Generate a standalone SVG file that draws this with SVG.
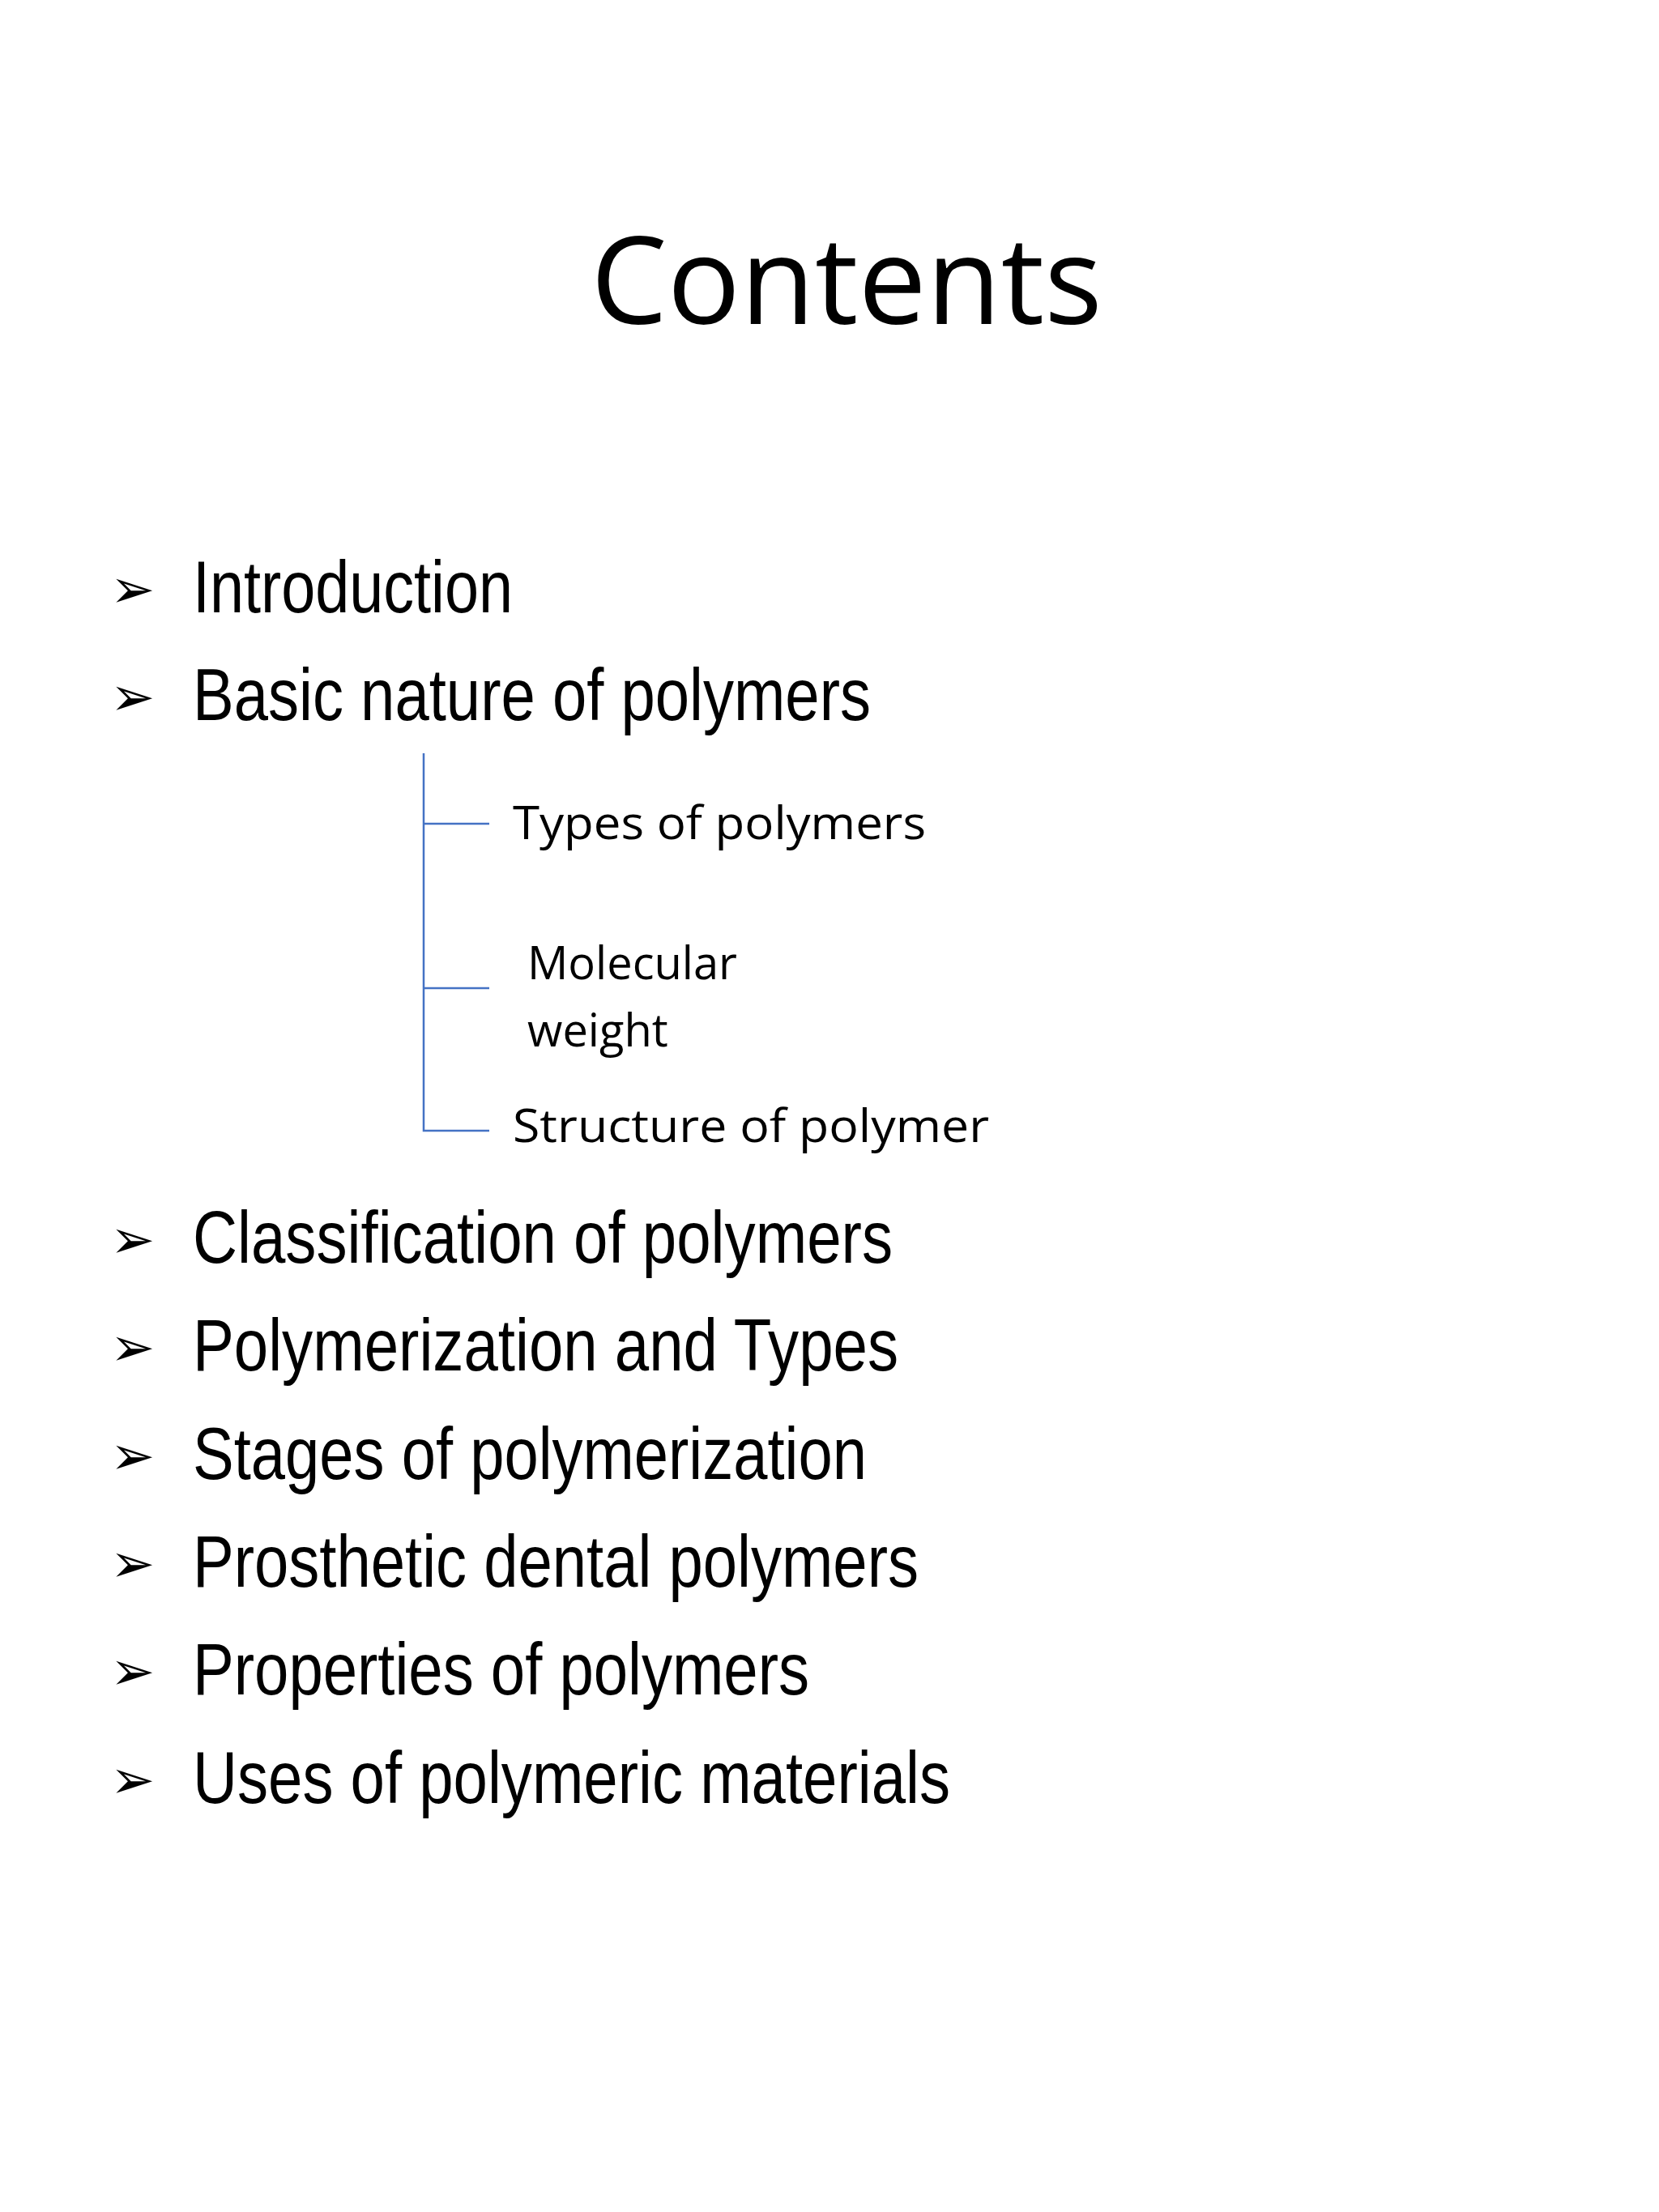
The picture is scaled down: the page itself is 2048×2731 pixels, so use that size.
<svg xmlns="http://www.w3.org/2000/svg" width="2048" height="2731" viewBox="0 0 2048 2731">
<style>
.t{font-family:"Open Sans","Noto Sans",sans-serif;fill:#000}
.b{font-family:"Liberation Sans",Arial,sans-serif;font-size:90px;fill:#000}
.a{font-family:"DejaVu Sans",sans-serif;font-size:66px;fill:#000}
.s{font-family:"Open Sans","Noto Sans",sans-serif;font-size:56px;fill:#000}
.c{stroke:#4472C4;stroke-width:2.5;fill:none}
</style>
<rect width="2048" height="2731" fill="#fff"/>
<g id="title"><text class="t" x="1045" y="400" font-size="150" text-anchor="middle">Contents</text></g>
<g id="bullets">
<text class="a" x="136" y="750">➢</text><text class="b" x="238" y="756" textLength="395" lengthAdjust="spacingAndGlyphs">Introduction</text>
<text class="a" x="136" y="883">➢</text><text class="b" x="238" y="889" textLength="837" lengthAdjust="spacingAndGlyphs">Basic nature of polymers</text>
<text class="a" x="136" y="1553">➢</text><text class="b" x="238" y="1559" textLength="864" lengthAdjust="spacingAndGlyphs">Classification of polymers</text>
<text class="a" x="136" y="1686">➢</text><text class="b" x="238" y="1692" textLength="871" lengthAdjust="spacingAndGlyphs">Polymerization and Types</text>
<text class="a" x="136" y="1820">➢</text><text class="b" x="238" y="1826" textLength="832" lengthAdjust="spacingAndGlyphs">Stages of polymerization</text>
<text class="a" x="136" y="1953">➢</text><text class="b" x="238" y="1959" textLength="896" lengthAdjust="spacingAndGlyphs">Prosthetic dental polymers</text>
<text class="a" x="136" y="2086">➢</text><text class="b" x="238" y="2092" textLength="761" lengthAdjust="spacingAndGlyphs">Properties of polymers</text>
<text class="a" x="136" y="2220">➢</text><text class="b" x="238" y="2226" textLength="935" lengthAdjust="spacingAndGlyphs">Uses of polymeric materials</text>
</g>
<g id="connectors">
<path class="c" d="M523 930V1396H604M523 1017H604M523 1220H604"/>
</g>
<g id="sub1"><text class="s" x="633" y="1036" textLength="510" lengthAdjust="spacingAndGlyphs">Types of polymers</text></g>
<g id="sub2"><text class="s" x="651" y="1209">Molecular</text><text class="s" x="651" y="1292">weight</text></g>
<g id="sub3"><text class="s" x="633" y="1410" textLength="588" lengthAdjust="spacingAndGlyphs">Structure of polymer</text></g>
</svg>
